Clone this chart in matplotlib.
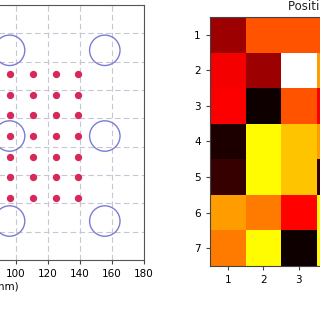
import matplotlib
matplotlib.use("Agg")
import matplotlib.pyplot as plt
import numpy as np

# left panel: sensor grid (mm)
dot_x = [96, 110.5, 125, 139]
dot_y = [131, 116.5, 102, 87.5, 73, 58.5, 44]
circle_x = [96, 155.5]
circle_y = [148, 87.5, 27.5]

# right panel: position map values (rows 1..7, columns 1..4)
heat = np.array([
    [0.22, 0.49, 0.49, 0.49],
    [0.35, 0.22, 1.00, 0.60],
    [0.36, 0.01, 0.49, 0.36],
    [0.03, 0.74, 0.66, 0.60],
    [0.07, 0.74, 0.66, 0.06],
    [0.60, 0.55, 0.37, 0.74],
    [0.55, 0.74, 0.01, 0.74],
])
row_labels = [1, 2, 3, 4, 5, 6, 7]
col_labels = [1, 2, 3, 4]


def main():
    fig = plt.figure(figsize=(3.2, 3.2), dpi=100)

    ax = fig.add_axes([-0.45, 0.1875, 0.9, 0.797])
    gx, gy = np.meshgrid(dot_x, dot_y)
    ax.scatter(gx.ravel(), gy.ravel(), s=18, color="#d8285a", zorder=3)
    cx, cy = np.meshgrid(circle_x, circle_y)
    ax.scatter(cx.ravel(), cy.ravel(), s=480, facecolors="none",
               edgecolors="#7c7cd2", linewidths=1.0, zorder=3)
    ax.set(xlim=(0, 180), ylim=(0, 180),
           xticks=range(0, 181, 20), yticks=range(0, 181, 20))
    ax.grid(True, linestyle=(0, (5, 3)), color="#c6c6d6", linewidth=0.8)
    ax.set_xlabel("x (mm)", fontsize=7.5, labelpad=2)
    ax.tick_params(labelsize=7.5, length=3, color="#444444")
    for sp in ax.spines.values():
        sp.set_color("#555555")

    ax2 = fig.add_axes([0.656, 0.169, 0.445, 0.778])
    ax2.imshow(heat, cmap="hot", vmin=0, vmax=1, aspect="auto",
               interpolation="nearest",
               extent=(0.5, len(col_labels) + 0.5, len(row_labels) + 0.5, 0.5))
    ax2.set_xticks(col_labels)
    ax2.set_yticks(row_labels)
    ax2.tick_params(labelsize=7.5, length=3, color="#444444")
    for sp in ax2.spines.values():
        sp.set_color("#444444")
    fig.text(288 / 320, 1 - 10 / 320, "Position map", fontsize=8.5,
             ha="left", va="baseline", color="#222222")

    fig.savefig("out.png", dpi=100)


if __name__ == '__main__':
    main()
